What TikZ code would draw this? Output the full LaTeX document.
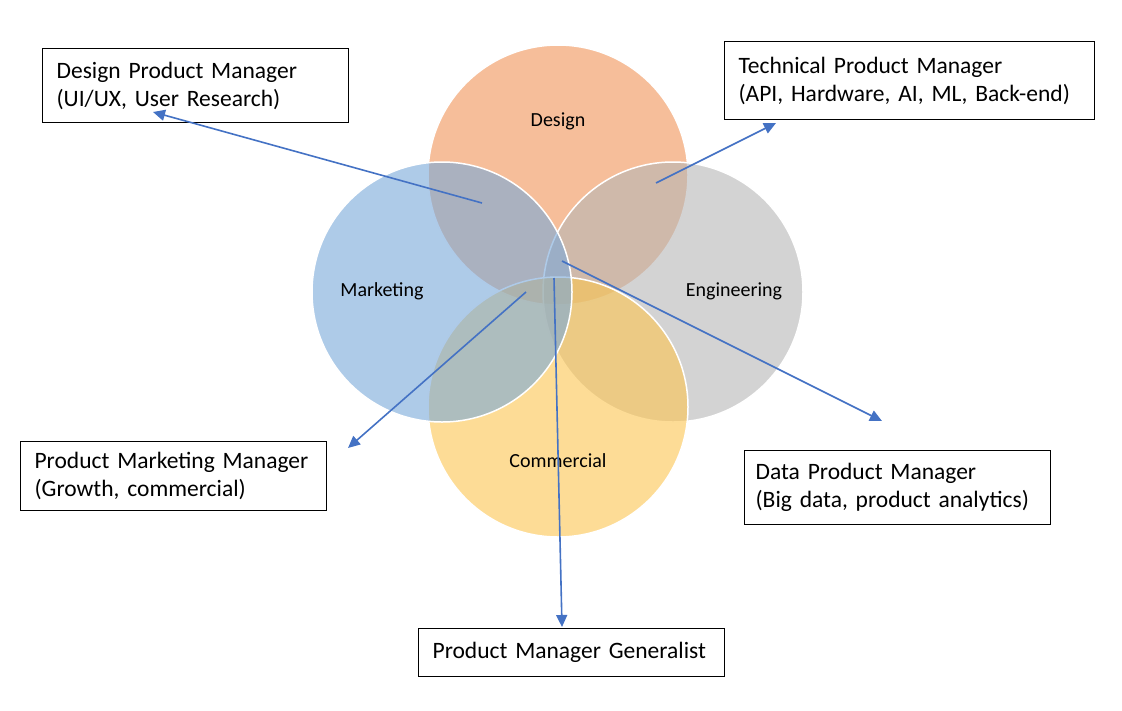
\documentclass[tikz,border=0pt]{standalone}
\usepackage{fontspec}
\setmainfont{Carlito}
\usetikzlibrary{arrows.meta}
\hyphenpenalty=10000

\definecolor{designfill}{RGB}{240,147,87}
\definecolor{marketfill}{RGB}{120,168,217}
\definecolor{enginefill}{RGB}{182,182,182}
\definecolor{commfill}{RGB}{252,197,80}
\definecolor{arrowblue}{RGB}{68,114,196}

\tikzstyle{set circle}=[circle,minimum size=260pt,inner sep=0pt,draw=white,line width=1.5pt,fill opacity=0.6]
\tikzstyle{set label}=[font=\fontsize{20}{24}\selectfont]
\tikzstyle{role box}=[draw=black,line width=1.2pt,fill=white,anchor=north west,align=left,inner xsep=14pt,inner ysep=0pt,font=\fontsize{23.5}{28}\selectfont]
\tikzstyle{pointer}=[draw=arrowblue,line width=1.6pt,-{Triangle[length=12pt,width=11pt]}]

\begin{document}
\begin{tikzpicture}[x=1pt,y=-1pt]
    \useasboundingbox (0,0) rectangle (1122,710);

     % the four sets, back to front
     \foreach \pos/\name/\col in {{(558,175)/design/designfill},
        {(673,292)/engineering/enginefill}, {(558,407)/commercial/commfill},
        {(442,292)/marketing/marketfill}}
     \node[set circle,fill=\col] (\name) at \pos {};

     \node[set label] (designlbl) at (558,121) {Design};
     \node[set label] (marketinglbl) at (382,291) {Marketing};
     \node[set label] (engineeringlbl) at (734,291) {Engineering};
     \node[set label] (commerciallbl) at (558,461) {Commercial};

     % roles
     \node[role box,text width=278pt,minimum height=74pt] (dpm) at (42,48)
        {Design Product Manager\\(UI/UX, User Research)};
     \node[role box,text width=342pt,minimum height=78pt] (tpm) at (724,41)
        {Technical Product Manager\\(API, Hardware, AI, ML, Back-end)};
     \node[role box,text width=278pt,minimum height=69pt] (pmm) at (20,441)
        {Product Marketing Manager\\(Growth, commercial)};
     \node[role box,text width=284pt,minimum height=74pt,inner xsep=11pt] (data) at (744,450)
        {Data Product Manager\\(Big data, product analytics)};
     \node[role box,text width=278pt,minimum height=48pt] (gen) at (418,628)
        {Product Manager Generalist};

     % arrow ends
     \foreach \pos/\name in {{(482,203)/dsgnmkt}, {(656,183)/dsgneng},
        {(562,261)/core}, {(526,292)/mktcomm}, {(554,278)/allsets},
        {(153,112)/dpmtip}, {(776,123)/tpmtip}, {(882,421)/datatip},
        {(348,448)/pmmtip}, {(562,627)/gentip}}
     \path \pos coordinate (\name);

     \foreach \source/ \dest in {dsgnmkt/dpmtip, dsgneng/tpmtip, core/datatip,
        mktcomm/pmmtip, allsets/gentip}
     \path[pointer] (\source) -- (\dest);

\end{tikzpicture}
\end{document}
